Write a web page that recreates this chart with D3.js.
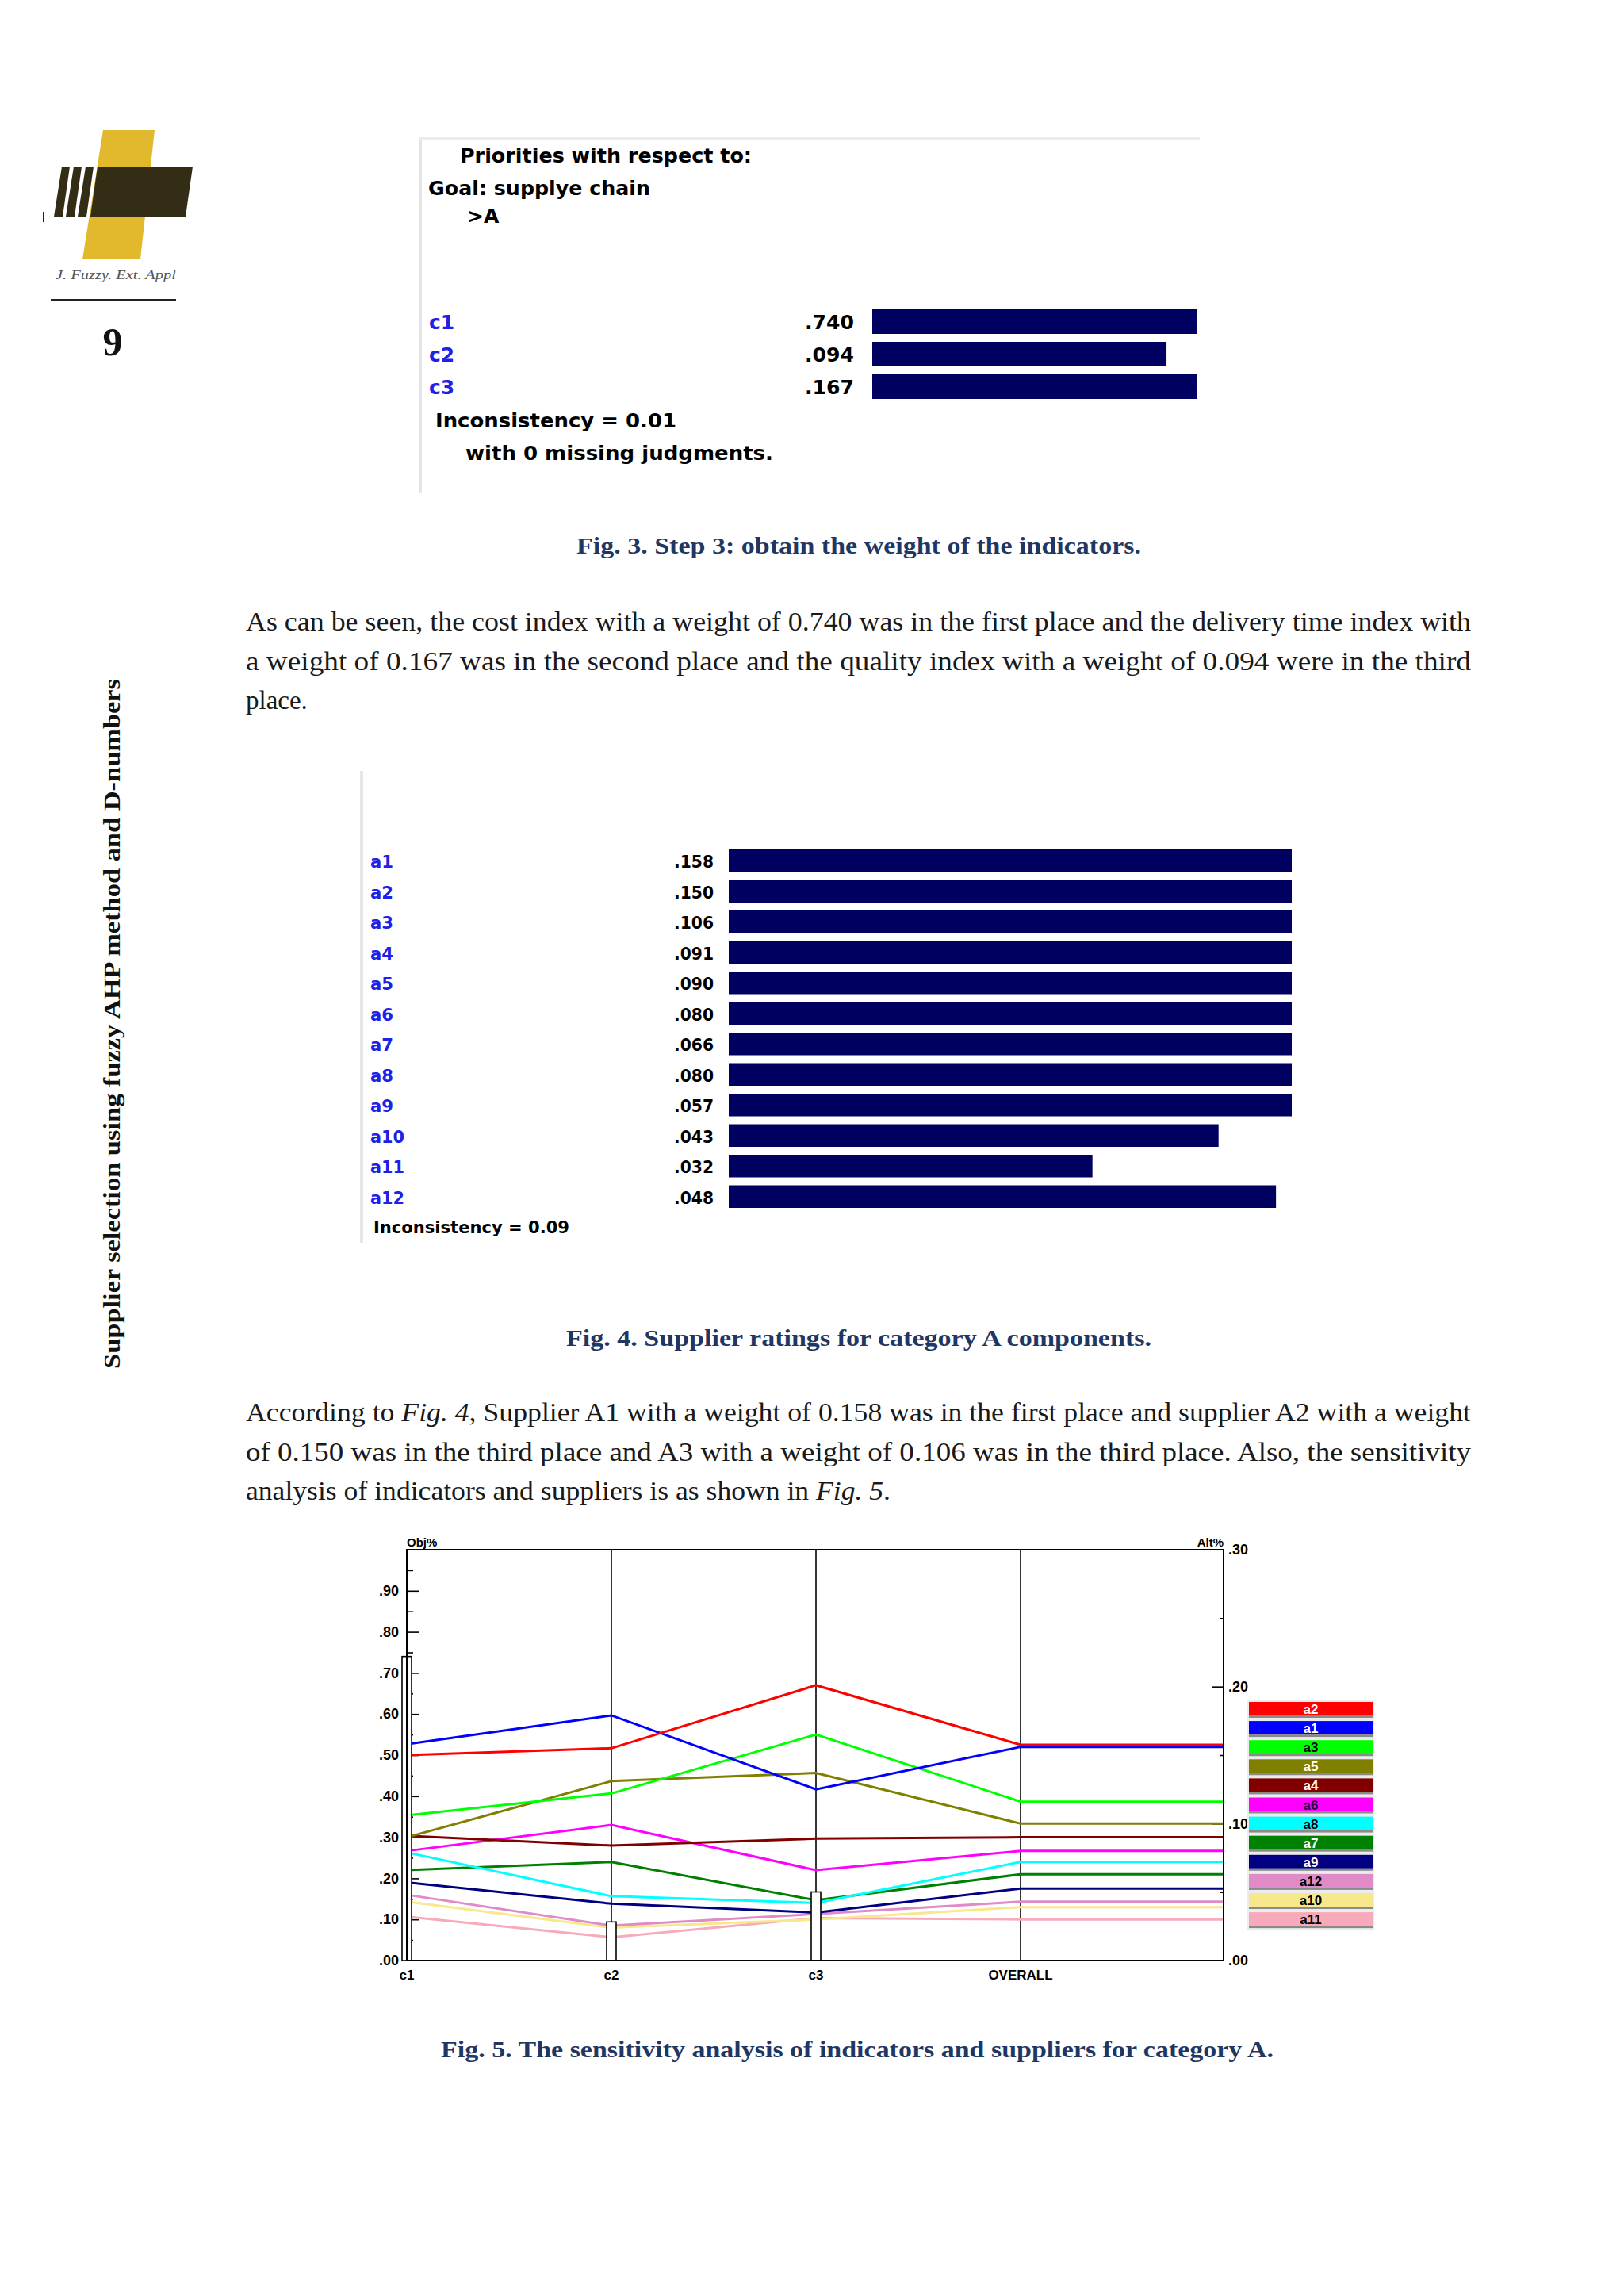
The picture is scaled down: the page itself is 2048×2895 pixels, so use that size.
<!DOCTYPE html>
<html><head><meta charset="utf-8">
<script src="https://cdn.jsdelivr.net/npm/d3@7"></script>
<style>html,body{margin:0;padding:0;background:#fff;} svg{display:block}</style>
</head><body>
<svg id="page" width="2048" height="2895"></svg>
<script>
// ---------------- DATA ----------------
// Fig. 3
const fig3Criteria = ["c1", "c2", "c3"];
const fig3Weights = [0.740, 0.094, 0.167];
const fig3BarLevel = [1.0, 0.905, 1.0];          // bar fill as displayed
// Fig. 4
const fig4Suppliers = ["a1","a2","a3","a4","a5","a6","a7","a8","a9","a10","a11","a12"];
const fig4Weights = [0.158,0.150,0.106,0.091,0.090,0.080,0.066,0.080,0.057,0.043,0.032,0.048];
const fig4BarLevel = [1,1,1,1,1,1,1,1,1,0.87,0.646,0.972];
const fig4Inconsistency = "0.09";
// Fig. 5
const fig5Axes = ["c1", "c2", "c3", "OVERALL"];
const fig5CriteriaWeights = [0.740, 0.094, 0.167];
const seriesA1  = [0.158, 0.179, 0.125, 0.156];
const seriesA2  = [0.150, 0.155, 0.201, 0.1575];
const seriesA3  = [0.106, 0.122, 0.165, 0.116];
const seriesA4  = [0.091, 0.084, 0.089, 0.090];
const seriesA5  = [0.090, 0.131, 0.137, 0.100];
const seriesA6  = [0.080, 0.099, 0.066, 0.080];
const seriesA7  = [0.066, 0.072, 0.044, 0.063];
const seriesA8  = [0.079, 0.047, 0.042, 0.072];
const seriesA9  = [0.057, 0.0415, 0.035, 0.0525];
const seriesA10 = [0.043, 0.024, 0.030, 0.039];
const seriesA11 = [0.032, 0.017, 0.031, 0.030];
const seriesA12 = [0.048, 0.0255, 0.034, 0.043];
const legendOrder = ["a2","a1","a3","a5","a4","a6","a8","a7","a9","a12","a10","a11"];
const leftTickLabels = [0, 0.1, 0.2, 0.3, 0.4, 0.5, 0.6, 0.7, 0.8, 0.9];
const rightTickLabels = [0, 0.1, 0.2, 0.3];

// styles
const altColor = {a1:"#0000ff",a2:"#ff0000",a3:"#00ff00",a4:"#800000",a5:"#808000",a6:"#ff00ff",
  a7:"#008000",a8:"#00ffff",a9:"#000080",a10:"#f8e88c",a11:"#f8aabb",a12:"#e08ac8"};
const altTextColor = {a1:"#fff",a2:"#fff",a3:"#000",a4:"#fff",a5:"#fff",a6:"#300030",a7:"#fff",
  a8:"#000",a9:"#fff",a10:"#000",a11:"#000",a12:"#000"};

const seriesTable = {a1:seriesA1,a2:seriesA2,a3:seriesA3,a4:seriesA4,a5:seriesA5,a6:seriesA6,
  a7:seriesA7,a8:seriesA8,a9:seriesA9,a10:seriesA10,a11:seriesA11,a12:seriesA12};

// ---------------- HELPERS ----------------
const svg = d3.select("#page");
const SERIF = "'Liberation Serif','Times New Roman',serif";
const SANS_EC = "'DejaVu Sans',Verdana,sans-serif";
const SANS = "'Liberation Sans',Arial,sans-serif";
const fmtDot = f => v => d3.format(f)(v).replace(/^0/, "");

function txt(g, x, y, s, o) {
  o = o || {};
  const t = g.append("text").attr("x", x).attr("y", y)
    .attr("font-family", o.family || SERIF)
    .attr("font-size", o.size || 20)
    .attr("font-weight", o.weight || "normal")
    .attr("font-style", o.italic ? "italic" : "normal")
    .attr("fill", o.fill || "#000")
    .attr("text-anchor", o.anchor || "start");
  if (Array.isArray(s)) {
    s.forEach(p => t.append("tspan").attr("font-style", p[1] ? "italic" : "normal").text(p[0]));
  } else t.text(s);
  if (o.len) t.attr("textLength", o.len).attr("lengthAdjust", "spacingAndGlyphs");
  return t;
}

// ---------------- HEADER / SIDE ----------------
const logo = svg.append("g");
logo.append("polygon").attr("points", "130,164 195,164 177,327 104,327").attr("fill", "#e2b92c");
logo.append("polygon").attr("points", "123,210 243,210 234,273 114,273").attr("fill", "#332d16");
[[78,88,79,68],[93,103,94,83],[108,118,109,98]].forEach(s =>
  logo.append("polygon").attr("points", `${s[0]},210 ${s[1]},210 ${s[2]},273 ${s[3]},273`).attr("fill", "#332d16"));
logo.append("rect").attr("x", 54).attr("y", 267).attr("width", 2).attr("height", 13).attr("fill", "#222");
txt(logo, 70, 352, "J. Fuzzy. Ext. Appl", {size: 16, italic: true, fill: "#555", len: 152});
logo.append("line").attr("x1", 64).attr("x2", 222).attr("y1", 378).attr("y2", 378).attr("stroke", "#222").attr("stroke-width", 2);
txt(logo, 142, 448, "9", {size: 50, weight: "bold", anchor: "middle", fill: "#111"});

const side = svg.append("g").attr("transform", "translate(151,1291) rotate(-90)");
txt(side, 0, 0, "Supplier selection using fuzzy AHP method and D-numbers",
  {size: 30, weight: "bold", anchor: "middle", fill: "#111", len: 870});

// ---------------- FIG 3 ----------------
const g3 = svg.append("g");
g3.append("rect").attr("x", 528).attr("y", 173).attr("width", 4).attr("height", 449).attr("fill", "#e4e4e4");
g3.append("rect").attr("x", 528).attr("y", 173).attr("width", 985).attr("height", 4).attr("fill", "#ececec");
const f3 = {family: SANS_EC, size: 25, weight: "bold"};
txt(g3, 580, 205, "Priorities with respect to:", {...f3, len: 368});
txt(g3, 540, 246, "Goal: supplye chain", {...f3, len: 280});
txt(g3, 589, 281, ">A", {...f3});
const y3 = d3.scaleBand().domain(fig3Criteria).range([390, 503]).paddingInner(10 / 41).paddingOuter(0);
const x3 = d3.scaleLinear().domain([0, 1]).range([1100, 1510]);
fig3Criteria.forEach((c, i) => {
  const top = y3(c);
  txt(g3, 541, top + 25, c, {...f3, fill: "#2020e6"});
  txt(g3, 1077, top + 25, fmtDot(".3f")(fig3Weights[i]), {...f3, anchor: "end", len: 62});
  g3.append("rect").attr("x", x3(0)).attr("y", top).attr("width", x3(fig3BarLevel[i]) - x3(0))
    .attr("height", y3.bandwidth()).attr("fill", "#000060");
});
txt(g3, 549, 539, "Inconsistency = 0.01", {...f3, len: 304});
txt(g3, 587, 580, "with 0  missing judgments.", {...f3, len: 388});

txt(svg, 727, 698, "Fig. 3. Step 3: obtain the weight of the indicators.",
  {size: 29, weight: "bold", fill: "#1f3763", len: 712});

// paragraph 1
const pOpt = {size: 33, fill: "#1a1a1a"};
txt(svg, 310, 795, "As can be seen, the cost index with a weight of 0.740 was in the first place and the delivery time index with", {...pOpt, len: 1545});
txt(svg, 310, 845, "a weight of 0.167 was in the second place and the quality index with a weight of 0.094 were in the third", {...pOpt, len: 1545});
txt(svg, 310, 894, "place.", {...pOpt});

// ---------------- FIG 4 ----------------
const g4 = svg.append("g");
g4.append("rect").attr("x", 454).attr("y", 972).attr("width", 4).attr("height", 595).attr("fill", "#e6e6e6");
const f4 = {family: SANS_EC, size: 22, weight: "bold"};
const y4 = d3.scaleBand().domain(fig4Suppliers).range([1071, 1071 + 11 * 38.5 + 28.5]).paddingInner(10 / 38.5).paddingOuter(0);
const x4 = d3.scaleLinear().domain([0, 1]).range([919, 1629]);
fig4Suppliers.forEach((s, i) => {
  const top = y4(s);
  txt(g4, 467, top + 23, s, {...f4, fill: "#2020e6", len: s.length === 2 ? 29 : 43});
  txt(g4, 900, top + 23, fmtDot(".3f")(fig4Weights[i]), {...f4, anchor: "end", len: 50});
  g4.append("rect").attr("x", x4(0)).attr("y", top).attr("width", x4(fig4BarLevel[i]) - x4(0))
    .attr("height", y4.bandwidth()).attr("fill", "#000060");
});
txt(g4, 471, 1555, "Inconsistency = " + fig4Inconsistency, {...f4, len: 247});

txt(svg, 714, 1697, "Fig. 4. Supplier ratings for category A components.",
  {size: 29, weight: "bold", fill: "#1f3763", len: 738});

// paragraph 2
txt(svg, 310, 1792, [["According to ", false], ["Fig. 4", true], [", Supplier A1 with a weight of 0.158 was in the first place and supplier A2 with a weight", false]], {...pOpt, len: 1545});
txt(svg, 310, 1842, "of 0.150 was in the third place and A3 with a weight of 0.106 was in the third place. Also, the sensitivity", {...pOpt, len: 1545});
txt(svg, 310, 1891, [["analysis of indicators and suppliers is as shown in ", false], ["Fig. 5", true], [".", false]], {...pOpt, len: 813});

// ---------------- FIG 5 ----------------
const P = {left: 513, right: 1543, top: 1954, bottom: 2472};
const g5 = svg.append("g");
const xPos = d3.scalePoint().domain(fig5Axes).range([P.left, 1287]);
const yLeft = d3.scaleLinear().domain([0, 1]).range([P.bottom, P.top]);
const yRight = d3.scaleLinear().domain([0, 0.30]).range([P.bottom, P.top]);

// interior axis lines
fig5Axes.slice(1).forEach(a => g5.append("line").attr("x1", xPos(a)).attr("x2", xPos(a))
  .attr("y1", P.top).attr("y2", P.bottom).attr("stroke", "#000").attr("stroke-width", 1.6));

// ticks (pointing inward)
const leftMajor = d3.range(1, 10).map(d => d / 10);
const leftMinor = d3.range(0, 10).map(d => d / 10 + 0.05);
const tickStyle = g => { g.select(".domain").remove(); g.selectAll("line").attr("stroke", "#000").attr("stroke-width", 1.6); };
g5.append("g").attr("transform", `translate(${P.left},0)`)
  .call(d3.axisRight(yLeft).tickValues(leftMajor).tickSize(16).tickFormat("")).call(tickStyle);
g5.append("g").attr("transform", `translate(${P.left},0)`)
  .call(d3.axisRight(yLeft).tickValues(leftMinor).tickSize(8).tickFormat("")).call(tickStyle);
g5.append("g").attr("transform", `translate(${P.right},0)`)
  .call(d3.axisLeft(yRight).tickValues([0.1, 0.2]).tickSize(14).tickFormat("")).call(tickStyle);
g5.append("g").attr("transform", `translate(${P.right},0)`)
  .call(d3.axisLeft(yRight).tickValues([0.05, 0.15, 0.25]).tickSize(5).tickFormat("")).call(tickStyle);

// tick labels
const labStyle = g => { g.select(".domain").remove(); g.selectAll("text").attr("font-family", SANS).attr("font-size", 18).attr("font-weight", "bold").attr("fill", "#000"); };
g5.append("g").attr("transform", `translate(${P.left},0)`)
  .call(d3.axisLeft(yLeft).tickValues(leftTickLabels).tickSize(0).tickPadding(10).tickFormat(fmtDot(".2f"))).call(labStyle);
g5.append("g").attr("transform", `translate(${P.right},0)`)
  .call(d3.axisRight(yRight).tickValues(rightTickLabels).tickSize(0).tickPadding(6).tickFormat(fmtDot(".2f"))).call(labStyle);

txt(g5, P.left, 1950, "Obj%", {family: SANS, size: 15, weight: "bold"});
txt(g5, P.right, 1950, "Alt%", {family: SANS, size: 15, weight: "bold", anchor: "end"});
fig5Axes.forEach(a => txt(g5, xPos(a), 2496, a, {family: SANS, size: 17, weight: "bold", anchor: "middle"}));

// alternative lines
const lineGen = d3.line().x(d => d[0]).y(d => d[1]);
const drawOrder = legendOrder.slice().reverse();
drawOrder.forEach(a => {
  const vals = seriesTable[a];
  const pts = fig5Axes.map((ax, i) => [xPos(ax), yRight(vals[i])]);
  pts.push([P.right, yRight(vals[3])]);
  g5.append("path").attr("d", lineGen(pts)).attr("fill", "none")
    .attr("stroke", altColor[a]).attr("stroke-width", 3).attr("stroke-linejoin", "miter");
});

// criteria weight bars (white)
fig5Axes.slice(0, 3).forEach((a, i) => {
  g5.append("rect").attr("x", xPos(a) - 6).attr("y", yLeft(fig5CriteriaWeights[i]))
    .attr("width", 12).attr("height", yLeft(0) - yLeft(fig5CriteriaWeights[i]))
    .attr("fill", "#fff").attr("stroke", "#000").attr("stroke-width", 1.6);
});

// plot frame
g5.append("rect").attr("x", P.left).attr("y", P.top).attr("width", P.right - P.left).attr("height", P.bottom - P.top)
  .attr("fill", "none").attr("stroke", "#000").attr("stroke-width", 2);

// legend
const lg = svg.append("g");
const yLg = d3.scaleBand().domain(legendOrder).range([2146, 2146 + 12 * 24.1]).paddingInner(0).paddingOuter(0);
lg.append("rect").attr("x", 1573).attr("y", 2143).attr("width", 160).attr("height", 12 * 24.1 + 2).attr("fill", "#ececec");
legendOrder.forEach(a => {
  const top = yLg(a);
  lg.append("rect").attr("x", 1575).attr("y", top).attr("width", 157).attr("height", 17).attr("fill", altColor[a]);
  lg.append("rect").attr("x", 1575).attr("y", top + 17).attr("width", 157).attr("height", 3).attr("fill", "#8a8a8a");
  txt(lg, 1653, top + 15, a, {family: SANS, size: 17, weight: "bold", anchor: "middle", fill: altTextColor[a]});
});

txt(svg, 556, 2594, "Fig. 5. The sensitivity analysis of indicators and suppliers for category A.",
  {size: 29, weight: "bold", fill: "#1f3763", len: 1050});
</script>
</body></html>
